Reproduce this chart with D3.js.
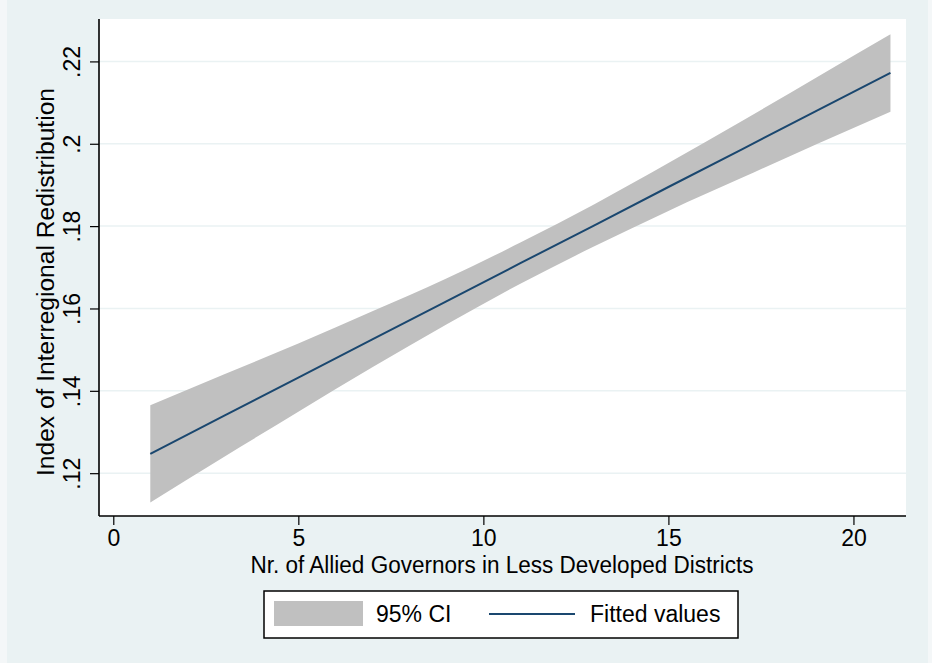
<!DOCTYPE html>
<html>
<head>
<meta charset="utf-8">
<script src="https://cdn.jsdelivr.net/npm/d3@7"></script>
<style>
  body { margin: 0; background: #f4f7f8; }
  svg { display: block; font-family: "Liberation Sans", Arial, sans-serif; }
</style>
</head>
<body>
<svg></svg>
<script>
// values
let govs = [1, 3, 5, 7, 9, 11, 13, 15, 17, 19, 21];
let fitted = [0.1247, 0.134, 0.1432, 0.1525, 0.1617, 0.171, 0.1802, 0.1895, 0.1987, 0.208, 0.2172];
let ciUpper = [0.1365, 0.144, 0.1515, 0.1593, 0.1673, 0.176, 0.1853, 0.1953, 0.2056, 0.2161, 0.2266];
let ciLower = [0.1129, 0.124, 0.1349, 0.1457, 0.1561, 0.166, 0.1751, 0.1837, 0.1918, 0.1999, 0.2078];
let xTicks = [0, 5, 10, 15, 20];
let yTicks = [0.12, 0.14, 0.16, 0.18, 0.2, 0.22];
let legendItems = ["95% CI", "Fitted values"];

let width = 932;
let height = 663;
let bg = "#eaf2f3";
let navy = "#1a476f";
let ciGray = "#c0c0c0";

let svg = d3.select("svg").attr("width", width).attr("height", height);

svg.append("rect").attr("x", 7).attr("y", 0).attr("width", 921).attr("height", height).attr("fill", bg);

let plot = { left: 99, right: 906, top: 19, bottom: 516 };

let x = d3.scaleLinear().domain([-0.386, 21.42]).range([plot.left, plot.right]);
let y = d3.scaleLinear().domain([0.1096, 0.2303]).range([plot.bottom, plot.top]);

svg.append("rect")
  .attr("x", plot.left).attr("y", plot.top)
  .attr("width", plot.right - plot.left).attr("height", plot.bottom - plot.top)
  .attr("fill", "white");

// gridlines
svg.append("g")
  .selectAll("line")
  .data(yTicks)
  .join("line")
  .attr("x1", plot.left).attr("x2", plot.right)
  .attr("y1", (d) => y(d)).attr("y2", (d) => y(d))
  .style("stroke", bg)
  .style("stroke-width", 1.5);

let rows = govs.map((g, i) => ({ g: g, fit: fitted[i], hi: ciUpper[i], lo: ciLower[i] }));

let area = d3.area()
  .x((d) => x(d.g))
  .y0((d) => y(d.lo))
  .y1((d) => y(d.hi))
  .curve(d3.curveMonotoneX);

svg.append("path").datum(rows).attr("d", area).style("fill", ciGray);

let line = d3.line().x((d) => x(d.g)).y((d) => y(d.fit));
svg.append("path").datum(rows).attr("d", line)
  .style("fill", "none").style("stroke", navy).style("stroke-width", 2);

// axes
let xAxis = svg.append("g")
  .attr("transform", `translate(0,${plot.bottom})`)
  .call(d3.axisBottom(x).tickValues(xTicks).tickSize(9).tickSizeOuter(0).tickPadding(6).tickFormat(d3.format("d")));
let yAxis = svg.append("g")
  .attr("transform", `translate(${plot.left},0)`)
  .call(d3.axisLeft(y).tickValues(yTicks).tickSize(9).tickSizeOuter(0).tickFormat((d) => d3.format(".2~f")(d).replace(/^0/, "")));

xAxis.select(".domain").attr("d", `M${plot.left},0H${plot.right}`);
yAxis.select(".domain").attr("d", `M0,${plot.top}V${plot.bottom}`);
svg.selectAll(".domain").style("stroke", "#000").style("stroke-width", 1.6);
svg.selectAll(".tick line").style("stroke", "#000").style("stroke-width", 1.2);

xAxis.selectAll("text").style("font-size", "23px").style("fill", "#000").attr("y", 14);
yAxis.selectAll("text")
  .style("font-size", "23px").style("fill", "#000")
  .attr("text-anchor", "middle")
  .attr("x", 0).attr("dy", 0)
  .attr("transform", "translate(-19,0) rotate(-90)");

// axis titles
svg.append("text")
  .attr("x", 502).attr("y", 573)
  .attr("text-anchor", "middle")
  .attr("textLength", 503).attr("lengthAdjust", "spacingAndGlyphs")
  .style("font-size", "23px")
  .text("Nr. of Allied Governors in Less Developed Districts");

svg.append("text")
  .attr("transform", "translate(54,282) rotate(-90)")
  .attr("text-anchor", "middle")
  .attr("textLength", 388).attr("lengthAdjust", "spacingAndGlyphs")
  .style("font-size", "23px")
  .text("Index of Interregional Redistribution");

// legend
let legend = svg.append("g");
legend.append("rect")
  .attr("x", 264).attr("y", 591).attr("width", 474).attr("height", 47)
  .style("fill", "white").style("stroke", "#000").style("stroke-width", 1.5);
legend.append("rect")
  .attr("x", 274).attr("y", 601).attr("width", 89).attr("height", 25)
  .style("fill", ciGray);
legend.append("text").attr("x", 376).attr("y", 622).style("font-size", "23px").text(legendItems[0]);
legend.append("line")
  .attr("x1", 489).attr("x2", 575).attr("y1", 614).attr("y2", 614)
  .style("stroke", navy).style("stroke-width", 2);
legend.append("text").attr("x", 590).attr("y", 622).style("font-size", "23px").text(legendItems[1]);
</script>
</body>
</html>
